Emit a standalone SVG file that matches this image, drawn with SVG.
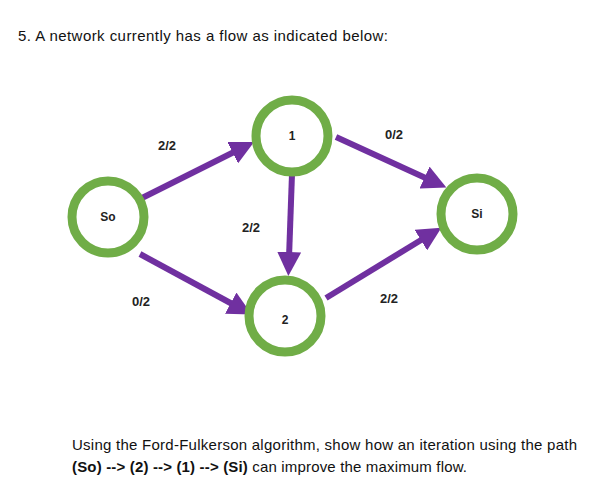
<svg xmlns="http://www.w3.org/2000/svg" width="608" height="484" viewBox="0 0 608 484">
<style>
.n{fill:#fff;stroke:#70AD47;stroke-width:9}
.nt{font-family:"Liberation Sans",Arial,sans-serif;font-size:12px;font-weight:bold;text-anchor:middle;fill:#222}
.e{stroke:#7030A0;stroke-width:6;marker-end:url(#a)}
.l{font-family:"Liberation Sans",Arial,sans-serif;font-size:13px;font-weight:bold;fill:#222}
.t{font-family:"Liberation Sans",Arial,sans-serif;font-size:15px;fill:#111}
</style>
<defs><marker id="a" markerWidth="4" markerHeight="4" refX="1" refY="2" orient="auto"><path d="M0,0L4,2L0,4z" fill="#7030A0"/></marker></defs>
<rect width="608" height="484" fill="#fff"/>
<text class="t" x="18" y="41" textLength="370" lengthAdjust="spacing">5.   A network currently has a flow as indicated below:</text>
<g id="connectors">
<line class="e" x1="142" y1="198" x2="238" y2="150"/>
<line class="e" x1="292" y1="174" x2="289" y2="258"/>
<line class="e" x1="140" y1="254" x2="236" y2="306"/>
<line class="e" x1="326" y1="298" x2="426" y2="237"/>
<line class="e" x1="336" y1="137" x2="430" y2="180"/>
</g>
<g id="So"><circle class="n" cx="108" cy="217" r="36"/><text class="nt" x="108" y="221">So</text></g>
<g id="n1"><circle class="n" cx="292" cy="136" r="36"/><text class="nt" x="292" y="140">1</text></g>
<g id="n2"><circle class="n" cx="285" cy="316" r="36"/><text class="nt" x="285" y="324">2</text></g>
<g id="Si"><circle class="n" cx="477" cy="214" r="36"/><text class="nt" x="477" y="218">Si</text></g>
<text class="l" x="158" y="150">2/2</text>
<text class="l" x="385" y="139">0/2</text>
<text class="l" x="242" y="232">2/2</text>
<text class="l" x="132" y="306">0/2</text>
<text class="l" x="380" y="303">2/2</text>
<text class="t" x="72" y="450" textLength="505" lengthAdjust="spacing">Using the Ford-Fulkerson algorithm, show how an iteration using the path</text>
<text class="t" x="72" y="472" textLength="395" lengthAdjust="spacing"><tspan font-weight="bold">(So) --&gt; (2) --&gt; (1) --&gt; (Si)</tspan> can improve the maximum flow.</text>
</svg>
